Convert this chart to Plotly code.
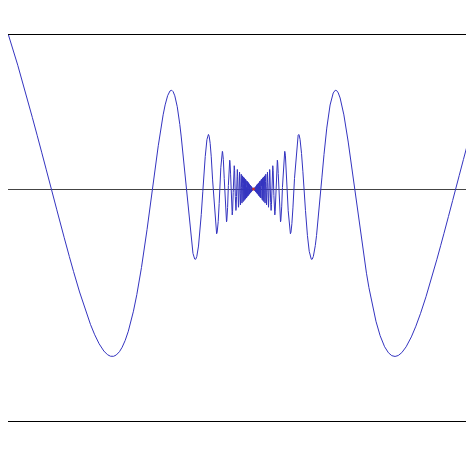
import numpy as np
import plotly.graph_objects as go

# Curve y = x*sin(1/x) as drawn in the reference
x_min, x_max = -0.3866, 0.3598
xs = np.concatenate([np.linspace(-0.45, -1e-4, 40000), np.linspace(1e-4, 0.45, 40000)])
ys = xs * np.sin(1.0 / xs)
origin_x = [0.0]
origin_y = [0.0]

fig = go.Figure()
fig.add_trace(go.Scatter(x=xs, y=ys, mode="lines", line=dict(color="#3434c0", width=1)))
fig.add_trace(go.Scatter(x=origin_x, y=origin_y, mode="markers",
                         marker=dict(color="#c03030", size=3)))
fig.update_layout(
    width=474, height=474, margin=dict(l=0, r=0, t=27, b=61),
    plot_bgcolor="white", paper_bgcolor="white", showlegend=False,
    xaxis=dict(range=[x_min, x_max], showticklabels=False, showgrid=False, zeroline=False,
               showline=True, linecolor="black", linewidth=1, mirror=True, ticks=""),
    yaxis=dict(range=[-0.301, 0.2], showticklabels=False, showgrid=False, zeroline=True,
               zerolinecolor="#444", zerolinewidth=1, showline=False),
)
fig.write_html("out.html")
